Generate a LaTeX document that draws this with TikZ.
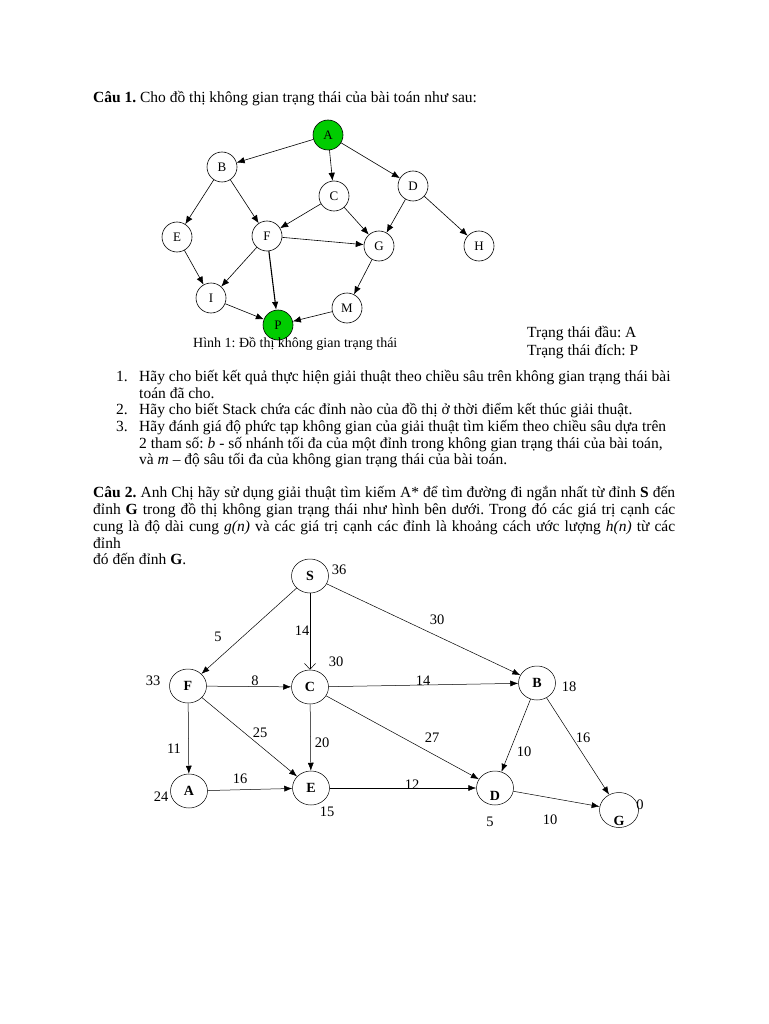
\documentclass[tikz,border=0pt]{standalone}
\usepackage{fontspec}
\setmainfont{Liberation Serif}
\usetikzlibrary{arrows.meta, shapes.geometric, positioning}
\definecolor{stgreen}{RGB}{0,204,0}
\frenchspacing

\begin{document}
\begin{tikzpicture}[x=1pt, y=-1pt,
    font=\fontsize{15.5}{17}\selectfont,
    txt/.style={anchor=base west, inner sep=0pt},
    st/.style={circle, draw, line width=0.6pt, minimum size=30pt, inner sep=0pt, font=\fontsize{13}{13}\selectfont},
    goal/.style={st, fill=stgreen},
    ar/.style={-{Latex[length=8pt,width=6.5pt]}, line width=0.6pt},
    vx/.style={ellipse, draw, line width=0.5pt, minimum width=37pt, minimum height=34pt, inner sep=0pt, font=\bfseries\fontsize{14}{14}\selectfont},
    wt/.style={inner sep=1pt, font=\fontsize{14.5}{14.5}\selectfont},
    arr/.style={-{Latex[length=8pt,width=6pt]}, line width=0.5pt}
  ]
  \useasboundingbox (0,0) rectangle (768,1024);
  \fill[white] (0,0) rectangle (768,1024);

  % cau 1
  \node[txt] (q1) at (93,103) {\textbf{Câu 1.} Cho đồ thị không gian trạng thái của bài toán như sau:};

  \node[goal] (A) at (328,135) {A};
  \node[st] (B) at (222,167) {B};
  \node[st] (C) at (334,196) {C};
  \node[st] (D) at (413,186) {D};
  \node[st] (E) at (177,237) {E};
  \node[st] (F) at (267,236) {F};
  \node[st] (G) at (379,246) {G};
  \node[st] (H) at (479,246) {H};
  \node[st] (I) at (211,298) {I};
  \node[st] (M) at (347,308) {M};
  \node[goal] (P) at (278,325) {P};

  \draw[ar] (A) -- (B);
  \draw[ar] (A) -- (C);
  \draw[ar] (A) -- (D);
  \draw[ar] (B) -- (E);
  \draw[ar] (B) -- (F);
  \draw[ar] (C) -- (F);
  \draw[ar] (C) -- (G);
  \draw[ar] (D) -- (G);
  \draw[ar] (D) -- (H);
  \draw[ar] (E) -- (I);
  \draw[ar] (F) -- (I);
  \draw[ar] (F) -- (G);
  \draw[ar, line width=1.1pt] (F) -- (P);
  \draw[ar] (G) -- (M);
  \draw[ar] (I) -- (P);
  \draw[ar] (M) -- (P);

  \node[txt, font=\fontsize{14}{15}\selectfont] (cap) at (193,347) {Hình 1: Đồ thị không gian trạng thái};
  \node[txt] (start) at (527,337) {Trạng thái đầu: A};
  \node[txt] (end) at (527,355) {Trạng thái đích: P};

  \node[txt] (n1) at (116,381) {1.};
  \node[txt] (t1) at (139,381) {Hãy cho biết kết quả thực hiện giải thuật theo chiều sâu trên không gian trạng thái bài};
  \node[txt] (t1b) at (139,398) {toán đã cho.};
  \node[txt] (n2) at (116,414.5) {2.};
  \node[txt] (t2) at (139,414.5) {Hãy cho biết Stack chứa các đỉnh nào của đồ thị ở thời điểm kết thúc giải thuật.};
  \node[txt] (n3) at (116,431) {3.};
  \node[txt] (t3) at (139,431) {Hãy đánh giá độ phức tạp không gian của giải thuật tìm kiếm theo chiều sâu dựa trên};
  \node[txt] (t3b) at (139,448) {2 tham số: \textit{b} - số nhánh tối đa của một đỉnh trong không gian trạng thái của bài toán,};
  \node[txt] (t3c) at (139,464.5) {và \textit{m} – độ sâu tối đa của không gian trạng thái của bài toán.};

  % cau 2
  \node[txt] (q2) at (93,497.5) {\makebox[582pt][s]{\textbf{Câu 2.} Anh Chị hãy sử dụng giải thuật tìm kiếm A* để tìm đường đi ngắn nhất từ đỉnh \textbf{S} đến}};
  \node[txt] (q2b) at (93,514) {\makebox[582pt][s]{đỉnh \textbf{G} trong đồ thị không gian trạng thái như hình bên dưới. Trong đó các giá trị cạnh các}};
  \node[txt] (q2c) at (93,531) {\makebox[582pt][s]{cung là độ dài cung \textit{g(n)} và các giá trị cạnh các đỉnh là khoảng cách ước lượng \textit{h(n)} từ các}};
  \node[txt] (q2d) at (93,548) {đỉnh};
  \node[txt] (q2e) at (93,564) {đó đến đỉnh \textbf{G}.};

  \node[vx] (S2) at (310,576) {S};
  \node[vx] (F2) at (188,686) {F};
  \node[vx] (C2) at (310,687) {C};
  \node[vx] (B2) at (537,683) {B};
  \node[vx] (A2) at (189,791) {A};
  \node[vx] (E2) at (311,788) {E};
  \node[vx, label={[font=\bfseries\fontsize{14}{14}\selectfont, yshift=-8pt]center:D}] (D2) at (495,788) {};
  \node[vx, minimum width=39pt, minimum height=35pt, label={[font=\bfseries\fontsize{14}{14}\selectfont, yshift=-11pt]center:G}] (G2) at (619,810) {};

  % h(n)
  \node[wt] (hS) at (339,570) {36};
  \node[wt] (hF) at (153,681) {33};
  \node[wt] (hC) at (336,662) {30};
  \node[wt] (hB) at (569,687) {18};
  \node[wt] (hA) at (161,797) {24};
  \node[wt] (hE) at (327,812) {15};
  \node[wt] (hD) at (490,822) {5};
  \node[wt] (hG) at (640,805) {0};

  % cung
  \draw[arr] (S2) -- (F2);
  \draw[-{Straight Barb[length=6pt,width=11pt]}, line width=0.5pt] (S2) -- (C2);
  \draw[arr] (S2) -- (B2);
  \draw[arr] (F2) -- (C2);
  \draw[arr] (C2) -- (B2);
  \draw[arr] (F2) -- (A2);
  \draw[arr] (F2) -- (E2);
  \draw[arr] (C2) -- (E2);
  \draw[arr] (C2) -- (D2);
  \draw[arr] (B2) -- (D2);
  \draw[arr] (B2) -- (G2);
  \draw[arr] (A2) -- (E2);
  \draw[arr] (E2) -- (D2);
  \draw[arr] (D2) -- (G2);

  \node[wt] (gSF) at (218,637) {5};
  \node[wt] (gSC) at (302,631) {14};
  \node[wt] (gSB) at (437,620) {30};
  \node[wt] (gFC) at (255,681) {8};
  \node[wt] (gCB) at (423,681) {14};
  \node[wt] (gFA) at (174,749) {11};
  \node[wt] (gFE) at (260,733) {25};
  \node[wt] (gCE) at (322,743) {20};
  \node[wt] (gCD) at (432,738) {27};
  \node[wt] (gBD) at (524,752) {10};
  \node[wt] (gBG) at (583,738) {16};
  \node[wt] (gAE) at (240,779) {16};
  \node[wt] (gED) at (412,785) {12};
  \node[wt] (gDG) at (550,820) {10};
\end{tikzpicture}
\end{document}
